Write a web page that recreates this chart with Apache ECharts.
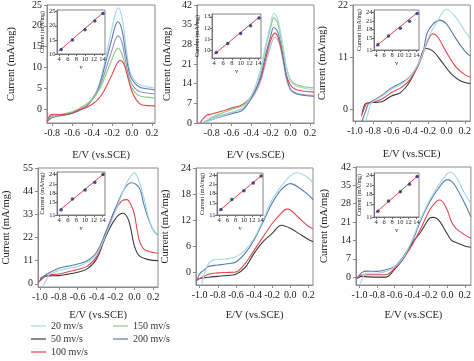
<!DOCTYPE html>
<html><head><meta charset="utf-8">
<script src="https://cdn.jsdelivr.net/npm/echarts@6/dist/echarts.min.js"></script>
<style>html,body{margin:0;padding:0;background:#fff}#c{width:474px;height:361px}</style>
</head><body><div id="c"></div>
<script>
// ---------- tick labels ----------
const xTicksTop = [-0.8, -0.6, -0.4, -0.2, 0, 0.2];
const xTicksWide = [-1.0, -0.8, -0.6, -0.4, -0.2, 0, 0.2];
const yTicks1 = [0, 5, 10, 15, 20, 25];
const yTicks2 = [0, 7, 14, 21, 28, 35, 42];
const yTicks3 = [0, 11, 22];
const yTicks4 = [0, 11, 22, 33, 44, 55];
const yTicks5 = [0, 6, 12, 18, 24];
const yTicks6 = [0, 7, 14, 21, 28, 35, 42];
const insXTicks = [4, 6, 8, 10, 12, 14];
const insYTicks1 = [10, 15, 20, 25];
const insYTicks2 = [10, 11, 12, 13];
const insYTicksB = [11, 15, 18, 21, 24];

// ---------- legend ----------
const rateNames = ['20 mv/s', '50 mv/s', '100 mv/s', '150 mv/s', '200 mv/s'];

// ---------- panel 1 (top left) ----------
const p1Cyan = [[-0.85,-3],[-0.8,-2],[-0.7,-1.5],[-0.6,-0.9],[-0.5,0],[-0.45,0.8],[-0.4,2.5],[-0.35,4.6],[-0.3,8.5],[-0.25,14],[-0.2,19.5],[-0.17,22.6],[-0.14,24.3],[-0.1,22],[-0.06,15],[-0.02,9],[0.03,6.8],[0.08,5.9],[0.15,5.4],[0.23,5.1]];
const p1Steel = [[-0.85,-3],[-0.8,-2],[-0.7,-1.5],[-0.6,-1],[-0.5,0],[-0.45,0.8],[-0.4,2.3],[-0.35,4.2],[-0.3,7.8],[-0.25,12.5],[-0.2,17],[-0.17,19.8],[-0.14,21],[-0.1,19],[-0.06,13],[-0.02,8.2],[0.03,6.2],[0.08,5.3],[0.15,4.9],[0.23,4.6]];
const p1Purple = [[-0.85,-2.5],[-0.8,-1.5],[-0.7,-1.3],[-0.6,-0.8],[-0.5,0.3],[-0.45,1],[-0.4,2.2],[-0.35,4],[-0.3,6.8],[-0.25,10.5],[-0.2,14.2],[-0.17,16.5],[-0.14,17.6],[-0.1,16],[-0.06,11],[-0.02,7],[0.03,5],[0.08,4.2],[0.15,3.9],[0.23,3.7]];
const p1Green = [[-0.85,-2.3],[-0.8,-1.8],[-0.7,-1.2],[-0.6,-0.6],[-0.5,0.6],[-0.45,1.3],[-0.4,2.3],[-0.35,3.8],[-0.3,6],[-0.25,9],[-0.2,12],[-0.17,13.8],[-0.14,14.6],[-0.1,13.2],[-0.06,9.5],[-0.02,6],[0.03,4],[0.08,3.2],[0.15,2.9],[0.23,2.7]];
const p1Red = [[-0.85,-3],[-0.82,-1.5],[-0.78,-1.2],[-0.7,-1.3],[-0.6,-0.9],[-0.5,0.1],[-0.45,0.5],[-0.4,1.2],[-0.35,2.1],[-0.3,3.6],[-0.25,5.8],[-0.2,8.3],[-0.16,10.5],[-0.12,11.7],[-0.08,10.8],[-0.04,7.5],[0,4.2],[0.05,2],[0.1,1],[0.23,0.8]];

// ---------- panel 2 (top middle) ----------
const p2Cyan = [[-0.87,0],[-0.83,0.8],[-0.8,1.2],[-0.7,2.5],[-0.6,3.7],[-0.5,5],[-0.45,6.8],[-0.4,9.5],[-0.35,13.5],[-0.3,19.5],[-0.25,28],[-0.2,35.5],[-0.17,39],[-0.13,37],[-0.08,28.5],[-0.04,20],[0,15],[0.05,13.3],[0.15,12.3],[0.24,12]];
const p2Green = [[-0.88,0],[-0.83,1.2],[-0.8,2],[-0.7,3.5],[-0.6,4.8],[-0.5,6],[-0.45,7.2],[-0.4,9.5],[-0.35,13.5],[-0.3,19],[-0.25,27],[-0.2,34],[-0.17,37.5],[-0.13,35.5],[-0.08,27],[-0.04,19.5],[0,15.5],[0.05,13.8],[0.15,12.8],[0.24,12.5]];
const p2Steel = [[-0.88,0],[-0.83,0.8],[-0.8,1.2],[-0.7,2.3],[-0.6,3.3],[-0.5,4.3],[-0.45,6],[-0.4,8.7],[-0.35,12],[-0.3,17],[-0.25,24.5],[-0.2,31],[-0.17,34],[-0.13,32.5],[-0.08,25],[-0.04,16.5],[0,12],[0.05,10.5],[0.15,9.8],[0.24,9.5]];
const p2Red = [[-0.92,0],[-0.88,1.8],[-0.85,2.8],[-0.8,3.2],[-0.7,4.2],[-0.6,5.3],[-0.5,6.3],[-0.45,7.5],[-0.4,9.3],[-0.35,12],[-0.3,16],[-0.25,23],[-0.2,29.5],[-0.16,32],[-0.12,30],[-0.08,24],[-0.04,17],[0,13.5],[0.05,12],[0.15,11.3],[0.24,11]];
const p2Lav = [[-0.9,0],[-0.85,1],[-0.8,1.8],[-0.7,2.8],[-0.6,3.8],[-0.5,5],[-0.45,6.3],[-0.4,8.5],[-0.35,11],[-0.3,15],[-0.25,21.5],[-0.2,27.5],[-0.16,30.5],[-0.12,29],[-0.08,23],[-0.04,15.5],[0,12],[0.05,10.8],[0.15,10],[0.24,9.8]];

// ---------- panel 3 (top right) ----------
const p3Cyan = [[-0.88,-2.5],[-0.85,-0.5],[-0.82,1.3],[-0.7,2.8],[-0.6,4.2],[-0.5,5.2],[-0.4,6.8],[-0.3,9.8],[-0.25,12.2],[-0.2,15],[-0.1,18.5],[0,21.1],[0.1,19.5],[0.2,16.5],[0.26,15]];
const p3Steel = [[-0.92,-2.5],[-0.88,-0.3],[-0.85,1.2],[-0.8,1.8],[-0.7,3],[-0.6,4.5],[-0.5,5.5],[-0.4,6.8],[-0.3,9.8],[-0.25,12.5],[-0.2,16.5],[-0.07,18.8],[0,18],[0.1,15],[0.2,12.3],[0.26,11.2]];
const p3Red = [[-0.93,-1.5],[-0.9,0],[-0.87,1.2],[-0.8,1.5],[-0.7,2.2],[-0.6,3.5],[-0.5,4.5],[-0.4,6.2],[-0.3,9.5],[-0.2,14.6],[-0.15,15.9],[-0.1,15.4],[0,12],[0.1,9],[0.2,7.3],[0.26,6.8]];
const p3Black = [[-0.92,-1],[-0.88,1.2],[-0.8,1.4],[-0.7,1.6],[-0.6,2.8],[-0.5,3.5],[-0.4,5.8],[-0.3,9.8],[-0.23,12.8],[-0.15,12.3],[-0.05,10],[0.05,7.5],[0.15,6],[0.26,5.4]];

// ---------- panel 4 (bottom left) ----------
const p4Cyan = [[-0.97,-1.5],[-0.93,2],[-0.9,4.5],[-0.8,6.3],[-0.7,7.3],[-0.6,8.3],[-0.5,10.2],[-0.4,14],[-0.3,23.6],[-0.2,34.6],[-0.1,46],[-0.05,50.5],[0,52.7],[0.05,48.7],[0.1,41],[0.15,31.6],[0.2,25.5],[0.25,22.8]];
const p4Steel = [[-1.0,2.4],[-0.92,4.8],[-0.8,7.4],[-0.7,8.4],[-0.6,9.4],[-0.5,11],[-0.4,15],[-0.3,25],[-0.2,36],[-0.1,45.5],[-0.03,48],[0.05,45.7],[0.1,37.7],[0.15,30.7],[0.2,25.5],[0.25,23]];
const p4Red = [[-1.02,0.5],[-0.95,3.5],[-0.9,4.3],[-0.8,4.7],[-0.7,5.7],[-0.6,6.8],[-0.5,8.3],[-0.4,13],[-0.3,24],[-0.2,35],[-0.13,39.5],[-0.08,40],[-0.03,37],[0,33],[0.05,21],[0.1,16.5],[0.18,15],[0.25,14.5]];
const p4Black = [[-1.0,1.5],[-0.95,3.5],[-0.9,3.8],[-0.8,3.9],[-0.7,4.6],[-0.6,5.5],[-0.5,7.1],[-0.4,11.8],[-0.3,22.8],[-0.2,31],[-0.12,33.5],[-0.06,30],[0,18],[0.05,13.4],[0.15,11.5],[0.25,11]];

// ---------- panel 5 (bottom middle) ----------
const p5Cyan = [[-0.98,-3],[-0.94,0],[-0.9,2],[-0.85,2.8],[-0.8,2.9],[-0.7,3],[-0.6,3.5],[-0.5,5],[-0.4,7.8],[-0.3,12],[-0.2,16.7],[-0.1,19.8],[0,22.2],[0.07,22.9],[0.12,22.7],[0.2,21.7],[0.25,20.5]];
const p5Steel = [[-1.03,-2],[-1.0,-0.4],[-0.95,0.5],[-0.9,1.3],[-0.8,1.6],[-0.7,1.9],[-0.6,2.3],[-0.5,4.3],[-0.4,7.4],[-0.3,11.6],[-0.2,15.9],[-0.1,19],[0,20.4],[0.1,19.4],[0.2,17.8],[0.25,16.7]];
const p5Red = [[-1.04,-2],[-1.0,-1.5],[-0.9,-0.5],[-0.8,-0.2],[-0.7,-0.1],[-0.6,0],[-0.5,1.9],[-0.4,5],[-0.3,8.1],[-0.2,11.2],[-0.1,13.6],[-0.04,14.5],[0,14.3],[0.1,12.4],[0.2,10.5],[0.25,10]];
const p5Black = [[-1.04,-2],[-1.0,-1.5],[-0.9,-1.2],[-0.8,-1],[-0.7,-0.8],[-0.6,-0.5],[-0.5,1],[-0.4,4.3],[-0.3,7],[-0.2,8.9],[-0.1,10.8],[0,10.1],[0.1,8.8],[0.2,7.5],[0.25,7]];

// ---------- panel 6 (bottom right) ----------
const p6Cyan = [[-0.99,-2.5],[-0.96,0],[-0.92,1.5],[-0.8,1.5],[-0.7,2.2],[-0.6,3.8],[-0.5,7.5],[-0.4,14.2],[-0.3,22.4],[-0.2,29.4],[-0.1,35],[0,39.5],[0.03,40],[0.1,38.2],[0.2,31.9],[0.27,28]];
const p6Steel = [[-1.02,0],[-0.97,1.8],[-0.92,2.3],[-0.8,2.2],[-0.7,2.8],[-0.6,4],[-0.5,7.8],[-0.4,13.5],[-0.3,21.8],[-0.2,28.7],[-0.1,33.8],[0,37.2],[0.05,36.5],[0.1,34.4],[0.2,28.1],[0.27,23]];
const p6Red = [[-1.03,-0.5],[-0.98,0.8],[-0.9,0.9],[-0.8,0.9],[-0.7,0.9],[-0.6,3.4],[-0.5,7.3],[-0.4,12.3],[-0.3,18.6],[-0.2,25.6],[-0.12,29],[-0.08,29.4],[0,25.6],[0.05,21],[0.1,18.6],[0.2,16.1],[0.27,14.8]];
const p6Black = [[-1.03,-0.5],[-0.98,0.3],[-0.9,0.1],[-0.8,0],[-0.7,0],[-0.6,3],[-0.5,7],[-0.4,12.9],[-0.3,17.3],[-0.2,22.5],[-0.16,22.8],[-0.1,21.8],[0,16.5],[0.05,14],[0.1,13.2],[0.2,11.9],[0.27,11.4]];

// ---------- insets: peak current vs v ----------
const insV = [4.47, 7.07, 10, 12.25, 14.14];
const ins1Pts = [11.6, 15.0, 18.6, 21.7, 24.4];
const ins2Pts = [9.8, 10.6, 11.5, 12.2, 12.9];
const ins3Pts = [12.8, 15.8, 18.5, 20.9, 23.6];
const ins4Pts = [12.7, 16.1, 19.0, 21.4, 24.0];
const ins5Pts = [12.8, 16.1, 19.0, 21.5, 23.8];
const ins6Pts = [12.8, 16.0, 18.9, 21.3, 23.7];
const ins1Fit = [[3.9, 11.0], [14.3, 24.8]];
const ins2Fit = [[3.9, 9.6], [14.3, 13.0]];
const ins3Fit = [[3.9, 12.2], [14.4, 24.1]];
const ins4Fit = [[3.9, 12.3], [14.4, 24.3]];
const ins5Fit = [[3.9, 12.3], [14.4, 24.1]];
const ins6Fit = [[3.9, 12.3], [14.4, 24.0]];

// ---------- styling ----------
const COL = {cyan:'#a3d8e8', steel:'#5a7aab', red:'#e6454b', green:'#8ecd7c', black:'#3b3b3b', purple:'#9a94bc', lav:'#b8acd4'};
const SERIF = 'Liberation Serif, DejaVu Serif, serif';

const panels = [
  {grid:{left:47,top:5,width:108,height:118}, x:[-0.85,0.23], y:[-3.3,25], xt:xTicksTop, yt:yTicks1, yGap:30, xGap:19,
   lines:[[p1Cyan,'cyan',0],[p1Steel,'steel',4],[p1Purple,'purple',1],[p1Green,'green',3],[p1Red,'red',2]],
   ins:{grid:{left:57,top:10,width:48,height:44}, y:[10,25.6], yt:insYTicks1, pts:ins1Pts, fit:ins1Fit}},
  {grid:{left:197,top:5,width:117,height:118}, x:[-0.95,0.24], y:[0,42], xt:xTicksTop, yt:yTicks2, yGap:24, xGap:19,
   lines:[[p2Lav,'lav',1],[p2Red,'red',2],[p2Steel,'steel',4],[p2Green,'green',3],[p2Cyan,'cyan',0]],
   ins:{grid:{left:212,top:14,width:49,height:44}, y:[9.3,13.25], yt:insYTicks2, pts:ins2Pts, fit:ins2Fit}},
  {grid:{left:353,top:5,width:120,height:116}, x:[-1.02,0.26], y:[-2.5,22], xt:xTicksWide, yt:yTicks3, yGap:25, xGap:20,
   lines:[[p3Black,'black',1],[p3Red,'red',2],[p3Steel,'steel',4],[p3Cyan,'cyan',0]],
   ins:{grid:{left:374,top:10,width:45,height:40}, y:[11,24.8], yt:insYTicksB, pts:ins3Pts, fit:ins3Fit}},
  {grid:{left:37,top:168,width:121,height:119}, x:[-1.02,0.25], y:[-1.5,55], xt:xTicksWide, yt:yTicks4, yGap:26, xGap:15,
   lines:[[p4Black,'black',1],[p4Red,'red',2],[p4Steel,'steel',4],[p4Cyan,'cyan',0]],
   ins:{grid:{left:57,top:172,width:48,height:43}, y:[11,24.8], yt:insYTicksB, pts:ins4Pts, fit:ins4Fit}},
  {grid:{left:196,top:168,width:117,height:117}, x:[-1.04,0.25], y:[-3,24], xt:xTicksWide, yt:yTicks5, yGap:25, xGap:17,
   lines:[[p5Black,'black',1],[p5Red,'red',2],[p5Steel,'steel',4],[p5Cyan,'cyan',0]],
   ins:{grid:{left:217,top:173,width:46,height:42}, y:[11,24.8], yt:insYTicksB, pts:ins5Pts, fit:ins5Fit}},
  {grid:{left:356,top:167,width:117,height:118}, x:[-1.04,0.27], y:[-3,42], xt:xTicksWide, yt:yTicks6, yGap:26, xGap:17,
   lines:[[p6Black,'black',1],[p6Red,'red',2],[p6Steel,'steel',4],[p6Cyan,'cyan',0]],
   ins:{grid:{left:374,top:173,width:45,height:44}, y:[11,24.8], yt:insYTicksB, pts:ins6Pts, fit:ins6Fit}}
];

const fmtX = v => (v < 0 ? '-' : '') + Math.abs(v).toFixed(1);
const grids = [], xAxes = [], yAxes = [], series = [];
const frame = '#8a8a8a';

panels.forEach((p) => {
  const gi = grids.length;
  grids.push(Object.assign({show:true, borderColor:frame, borderWidth:1, backgroundColor:'transparent'}, p.grid));
  xAxes.push({type:'value', gridIndex:gi, min:p.x[0], max:p.x[1],
    axisLine:{show:true, onZero:false, lineStyle:{color:frame}},
    axisTick:{show:true, length:3, customValues:p.xt, lineStyle:{color:frame}},
    axisLabel:{customValues:p.xt, formatter:fmtX, fontFamily:SERIF, fontSize:10, color:'#222', margin:5,
      hideOverlap:false, showMinLabel:true, showMaxLabel:true},
    splitLine:{show:false},
    name:'E/V (vs.SCE)', nameLocation:'middle', nameGap:p.xGap+8,
    nameTextStyle:{fontFamily:SERIF, fontSize:10.5, color:'#222'}});
  yAxes.push({type:'value', gridIndex:gi, min:p.y[0], max:p.y[1],
    axisLine:{show:true, onZero:false, lineStyle:{color:frame}},
    axisTick:{show:true, length:3, customValues:p.yt, lineStyle:{color:frame}},
    axisLabel:{customValues:p.yt, fontFamily:SERIF, fontSize:10, color:'#222', margin:5,
      hideOverlap:false, showMinLabel:true, showMaxLabel:true},
    splitLine:{show:false},
    name:'Current (mA/mg)', nameLocation:'middle', nameGap:p.yGap,
    nameTextStyle:{fontFamily:SERIF, fontSize:10.5, color:'#222'}});
  p.lines.forEach(([d, c, ni]) => {
    series.push({type:'line', name:rateNames[ni], xAxisIndex:gi, yAxisIndex:gi, data:d,
      smooth:0.35, symbol:'none', lineStyle:{color:COL[c], width:1.1}, itemStyle:{color:COL[c]},
      silent:true, animation:false, z:2});
  });
  // inset
  const ii = grids.length;
  grids.push(Object.assign({show:true, borderColor:'#666', borderWidth:0.8, backgroundColor:'#fff', z:5}, p.ins.grid));
  xAxes.push({type:'value', gridIndex:ii, min:3.5, max:14.6, z:6,
    axisLine:{show:true, onZero:false, lineStyle:{color:'#666', width:0.8}},
    axisTick:{show:true, length:2, customValues:insXTicks, lineStyle:{color:'#666'}},
    axisLabel:{customValues:insXTicks, fontFamily:SERIF, fontSize:6.5, color:'#222', margin:2, hideOverlap:false},
    splitLine:{show:false},
    name:'v', nameLocation:'middle', nameGap:10, nameTextStyle:{fontFamily:SERIF, fontSize:6.5, color:'#222'}});
  yAxes.push({type:'value', gridIndex:ii, min:p.ins.y[0], max:p.ins.y[1], z:6,
    axisLine:{show:true, onZero:false, lineStyle:{color:'#666', width:0.8}},
    axisTick:{show:true, length:2, customValues:p.ins.yt, lineStyle:{color:'#666'}},
    axisLabel:{customValues:p.ins.yt, fontFamily:SERIF, fontSize:6.5, color:'#222', margin:1.5, hideOverlap:false},
    splitLine:{show:false},
    name:'Current (mA/mg)', nameLocation:'middle', nameGap:11, nameTextStyle:{fontFamily:SERIF, fontSize:6, color:'#222'}});
  series.push({type:'line', xAxisIndex:ii, yAxisIndex:ii, data:p.ins.fit, symbol:'none',
    lineStyle:{color:'#e04448', width:1}, silent:true, animation:false, z:6});
  series.push({type:'scatter', xAxisIndex:ii, yAxisIndex:ii, data:insV.map((v,k)=>[v,p.ins.pts[k]]),
    symbolSize:3.5, itemStyle:{color:'#1d2a6e'}, silent:true, animation:false, z:7});
});

const legItem = (n, c) => ({name:n, itemStyle:{color:COL[c]}, lineStyle:{color:COL[c]}});
const legCommon = {orient:'vertical', icon:'rect', itemWidth:15, itemHeight:1.2, itemGap:1, padding:0, height:45,
  textStyle:{fontFamily:SERIF, fontSize:10, color:'#333', lineHeight:12}, selectedMode:false};

const chart = echarts.init(document.getElementById('c'), null, {renderer:'canvas'});
chart.setOption({
  animation:false,
  backgroundColor:'#fff',
  grid:grids, xAxis:xAxes, yAxis:yAxes, series:series,
  legend:[
    Object.assign({left:31, top:320, data:[legItem('20 mv/s','cyan'), legItem('50 mv/s','black'), legItem('100 mv/s','red')]}, legCommon),
    Object.assign({left:113, top:320, data:[legItem('150 mv/s','green'), legItem('200 mv/s','steel')]}, legCommon)
  ]
});
</script></body></html>
